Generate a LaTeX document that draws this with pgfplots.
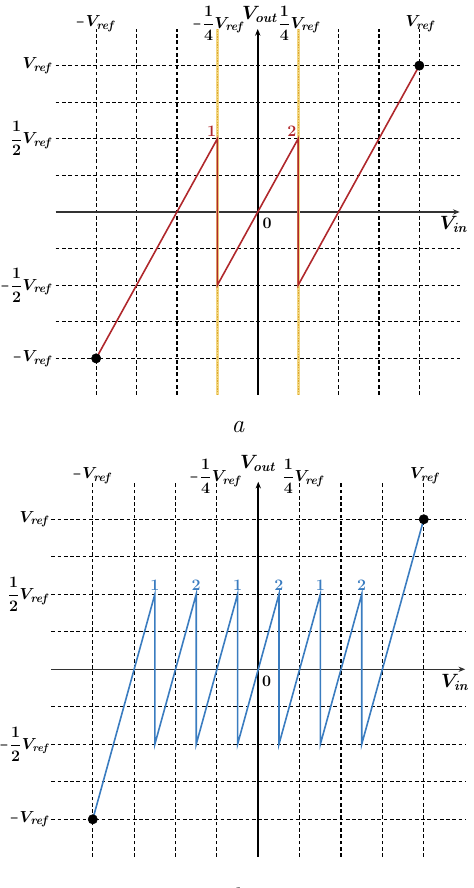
\documentclass[border=0pt]{standalone}
\usepackage{graphicx}
\usepackage{pgfplots}
\pgfplotsset{compat=1.18}
\usetikzlibrary{arrows.meta}

\definecolor{sawred}{HTML}{B0282C}
\definecolor{sawblue}{HTML}{3A7CC0}
\definecolor{refyellow}{HTML}{F2D680}
\definecolor{refgold}{HTML}{DDA832}

\pgfplotsset{
  transfer/.style={
    scale only axis,
    enlargelimits=false,
    xmin=-1.25, xmax=1.25, ymin=-1.25, ymax=1.25,
    axis lines=middle,
    x axis line style={line width=1.1pt, -{Stealth[length=5pt,width=4pt]}, black!80},
    y axis line style={line width=1.8pt, -{Stealth[length=5pt,width=4pt]}, black},
    xtick={-1,-0.75,...,1}, ytick={-1,-0.75,...,1},
    xticklabels={}, yticklabels={},
    major tick length=0pt,
    grid=major,
    major grid style={black, line width=0.9pt, dash pattern=on 2.8pt off 1.9pt},
    clip=false,
  },
}
\tikzset{
  lbl/.style={font=\fontsize{12.5}{14}\selectfont\boldmath, inner sep=1pt},
  biglbl/.style={font=\fontsize{14.5}{16}\selectfont\boldmath, inner sep=1pt},
  peak/.style={font=\bfseries\fontsize{12}{13}\selectfont, inner sep=1pt},
}

\newcommand{\vref}{V_{\mathit{ref}}}
% a narrower minus sign, as in the reference labels
\newcommand{\nm}{\mathord{\scalebox{0.62}[1]{\boldmath$-$}}\mkern1mu}

\begin{document}
\begin{tikzpicture}
\useasboundingbox (0,0) rectangle (355.5pt,666pt);

% ---------- panel a ----------
\begin{axis}[transfer, width=303pt, height=274.5pt,
  at={(41.8pt,369.75pt)}, anchor=south west]
  \addplot[refyellow, line width=2.4pt] coordinates {(-0.25,-1.25) (-0.25,1.25)};
  \addplot[refyellow, line width=2.4pt] coordinates {(0.25,-1.25) (0.25,1.25)};
  \addplot[refgold, line width=0.9pt, dash pattern=on 1pt off 1pt]
    coordinates {(-0.25,-1.25) (-0.25,1.25)};
  \addplot[refgold, line width=0.9pt, dash pattern=on 1pt off 1pt]
    coordinates {(0.25,-1.25) (0.25,1.25)};
  \addplot[sawred, line width=1.2pt] coordinates {
    (-1,-1) (-0.25,0.5) (-0.25,-0.5) (0.25,0.5) (0.25,-0.5) (1,1)};
  \addplot[only marks, mark=*, mark size=3.5pt, black] coordinates {(-1,-1) (1,1)};

  \node[lbl] at (axis cs:-1,1.285) {$\nm\vref$};
  \node[lbl] at (axis cs:-0.24,1.29) {$\nm\displaystyle\frac{1}{4}\vref$};
  \node[biglbl] at (axis cs:0.015,1.35) {$V_{\mathit{out}}$};
  \node[lbl] at (axis cs:0.26,1.29) {$\displaystyle\frac{1}{4}\vref$};
  \node[lbl] at (axis cs:1.01,1.285) {$\vref$};

  \node[lbl, anchor=east] at (axis cs:-1.255,1) {$\vref$};
  \node[lbl, anchor=east] at (axis cs:-1.255,0.5) {$\displaystyle\frac{1}{2}\vref$};
  \node[lbl, anchor=east] at (axis cs:-1.255,-0.5) {$\nm\displaystyle\frac{1}{2}\vref$};
  \node[lbl, anchor=east] at (axis cs:-1.255,-1) {$\nm\vref$};

  \node[lbl] at (axis cs:0.058,-0.08) {$\mathbf{0}$};
  \node[biglbl] at (axis cs:1.215,-0.085) {$V_{\mathit{in}}$};

  \node[peak, sawred] at (axis cs:-0.286,0.55) {1};
  \node[peak, sawred] at (axis cs:0.212,0.55) {2};

  \node[font=\itshape\fontsize{19}{21}\selectfont] at (axis cs:-0.122,-1.47) {a};
\end{axis}

% ---------- panel b ----------
\begin{axis}[transfer, width=310.3pt, height=281.25pt,
  at={(38.55pt,23.4pt)}, anchor=south west]
  \addplot[sawblue, line width=1.2pt] coordinates {
    (-1,-1) (-0.625,0.5) (-0.625,-0.5) (-0.375,0.5) (-0.375,-0.5)
    (-0.125,0.5) (-0.125,-0.5) (0.125,0.5) (0.125,-0.5)
    (0.375,0.5) (0.375,-0.5) (0.625,0.5) (0.625,-0.5) (1,1)};
  \addplot[only marks, mark=*, mark size=3.5pt, black] coordinates {(-1,-1) (1,1)};

  \node[lbl] at (axis cs:-1.0,1.29) {$\nm\vref$};
  \node[lbl] at (axis cs:-0.255,1.285) {$\nm\displaystyle\frac{1}{4}\vref$};
  \node[biglbl] at (axis cs:0.0,1.375) {$V_{\mathit{out}}$};
  \node[lbl] at (axis cs:0.275,1.285) {$\displaystyle\frac{1}{4}\vref$};
  \node[lbl] at (axis cs:1.01,1.29) {$\vref$};

  \node[lbl, anchor=east, inner sep=0pt] at (axis cs:-1.255,1) {$\vref$};
  \node[lbl, anchor=east, inner sep=0pt] at (axis cs:-1.255,0.5) {$\displaystyle\frac{1}{2}\vref$};
  \node[lbl, anchor=east, inner sep=0pt, font=\fontsize{12}{14}\selectfont\boldmath]
    at (axis cs:-1.255,-0.5) {$\nm\displaystyle\frac{1}{2}\vref$};
  \node[lbl, anchor=east, inner sep=0pt] at (axis cs:-1.255,-1) {$\nm\vref$};

  \node[lbl] at (axis cs:0.05,-0.08) {$\mathbf{0}$};
  \node[biglbl] at (axis cs:1.19,-0.09) {$V_{\mathit{in}}$};

  \node[peak, sawblue] at (axis cs:-0.625,0.56) {1};
  \node[peak, sawblue] at (axis cs:-0.375,0.56) {2};
  \node[peak, sawblue] at (axis cs:-0.125,0.56) {1};
  \node[peak, sawblue] at (axis cs:0.125,0.56) {2};
  \node[peak, sawblue] at (axis cs:0.375,0.56) {1};
  \node[peak, sawblue] at (axis cs:0.625,0.56) {2};

  \node[font=\itshape\fontsize{19}{21}\selectfont] at (axis cs:-0.122,-1.52) {b};
\end{axis}
\end{tikzpicture}
\end{document}
